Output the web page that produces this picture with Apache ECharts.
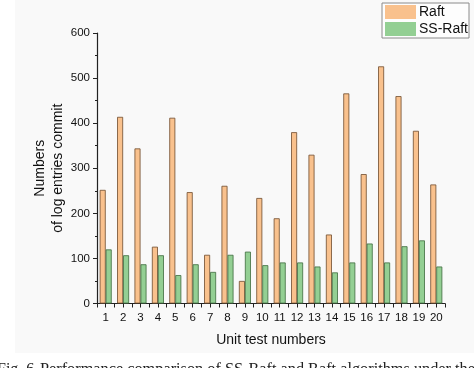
<!DOCTYPE html>
<html><head><meta charset="utf-8">
<script src="https://cdn.jsdelivr.net/npm/echarts@6/dist/echarts.min.js"></script>
<style>html,body{margin:0;padding:0;background:#fff}#c{width:474px;height:368px}</style>
</head><body><div id="c"></div>
<script>
const categories = ['1','2','3','4','5','6','7','8','9','10','11','12','13','14','15','16','17','18','19','20'];
const raft = [252,414,344,126,412,247,108,261,50,234,189,380,330,153,466,287,526,460,383,264];
const ssRaft = [120,107,87,107,63,87,70,108,115,85,91,91,82,69,91,133,91,127,140,82];
const yTicks = [0,100,200,300,400,500,600];

const chart = echarts.init(document.getElementById('c'));
const font = 'Liberation Sans, Arial, sans-serif';
const serif = '"Liberation Serif", "Times New Roman", serif';
chart.setOption({
  backgroundColor: '#ffffff',
  animation: false,
  graphic: [
    {type:'rect', z:-10, shape:{x:15,y:0,width:459,height:353}, style:{fill:'#f9f9f9'}},
    {type:'text', left:-3, top:362, style:{text:'Fig. 6', font:'16px ' + serif, fill:'#222'}},
    {type:'text', left:40, top:362, style:{text:'Performance comparison of SS-Raft and Raft algorithms under the', font:'16.3px ' + serif, fill:'#222'}}
  ],
  legend: {
    orient:'vertical', left:382, top:3, padding:[2,1,2,3],
    itemWidth:31, itemHeight:14, itemGap:3,
    borderColor:'#8a8a8a', borderWidth:1, backgroundColor:'#fdfdfd',
    textStyle:{fontFamily:font, fontSize:14, color:'#111', padding:[0,0,0,-2]},
    icon:'rect', itemStyle:{borderWidth:0},
    data:['Raft','SS-Raft']
  },
  grid: {left:97, right:29, top:33, bottom:64.5},
  xAxis: [{
    type:'category', data:categories,
    name:'Unit test numbers', nameLocation:'middle', nameGap:30,
    nameTextStyle:{fontFamily:font, fontSize:14, color:'#111'},
    axisLine:{lineStyle:{color:'#222', width:1.2}},
    axisTick:{show:true, length:4, lineStyle:{color:'#222'}},
    axisLabel:{fontFamily:font, fontSize:11.5, color:'#111', margin:8, interval:0}
  },{
    type:'category', data:categories, position:'bottom',
    axisLine:{show:false},
    axisTick:{show:true, alignWithLabel:true, length:4, lineStyle:{color:'#222'}},
    axisLabel:{show:false}
  }],
  yAxis: {
    type:'value', min:yTicks[0], max:yTicks[yTicks.length-1], interval:100,
    name:'Numbers\nof log entries commit', nameLocation:'middle', nameGap:30,
    nameMoveOverlap:false,
    nameTextStyle:{fontFamily:font, fontSize:14, color:'#111', lineHeight:18},
    axisLine:{show:true, lineStyle:{color:'#222', width:1.2}},
    axisTick:{show:true, length:4, lineStyle:{color:'#222'}},
    minorTick:{show:true, splitNumber:2, length:2, lineStyle:{color:'#222'}},
    splitLine:{show:false},
    axisLabel:{fontFamily:font, fontSize:11.5, color:'#111', margin:7}
  },
  series: [{
    name:'Raft', type:'bar', data:raft, barWidth:6, barGap:'0%',
    itemStyle:{color:'#f9c18d', borderColor:'#6e4b2d', borderWidth:0.8}
  },{
    name:'SS-Raft', type:'bar', data:ssRaft, barWidth:6,
    itemStyle:{color:'#93cf93', borderColor:'#3d6b3d', borderWidth:0.8}
  }]
});
</script></body></html>
